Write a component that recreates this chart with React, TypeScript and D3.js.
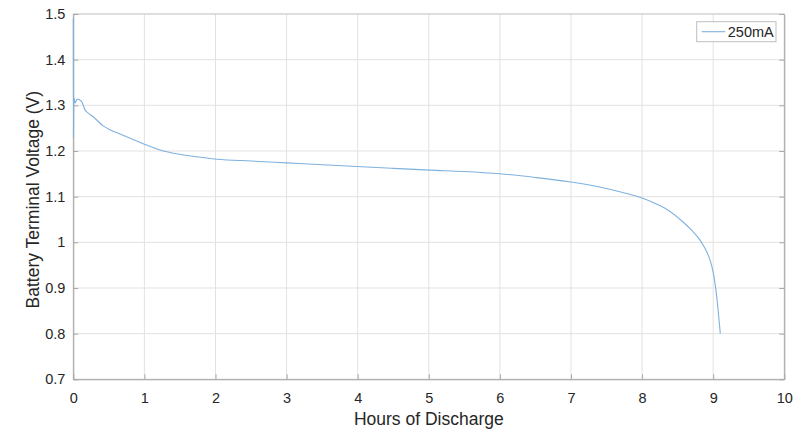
import React, { useEffect, useRef } from 'react';
import * as d3 from 'd3';

// discharge curve (hours, volts)
const hours = [
  0, 0.002, 0.006, 0.012, 0.024, 0.056, 0.118, 0.165, 0.21, 0.28, 0.42, 0.52, 0.66, 0.8, 1.0,
  1.22, 1.41, 1.7, 2.02, 2.5, 3.0, 3.5, 3.99, 4.5, 5.02, 5.5, 6.0, 6.5, 7.0, 7.4, 7.7, 8.0,
  8.2, 8.35, 8.58, 8.7, 8.81, 8.88, 8.94, 8.98, 9.01, 9.03, 9.05, 9.07, 9.1,
];
const volts = [
  1.49, 1.23, 1.31, 1.316, 1.305, 1.314, 1.308, 1.29, 1.283, 1.275, 1.255, 1.246, 1.237, 1.228,
  1.215, 1.202, 1.195, 1.188, 1.182, 1.178, 1.174, 1.17, 1.166, 1.162, 1.158, 1.155, 1.15, 1.142,
  1.132, 1.121, 1.11, 1.097, 1.084, 1.072, 1.044, 1.026, 1.006, 0.988, 0.968, 0.948, 0.926,
  0.905, 0.88, 0.85, 0.8,
];
const xTicks = [0, 1, 2, 3, 4, 5, 6, 7, 8, 9, 10];
const yTicks = [0.7, 0.8, 0.9, 1, 1.1, 1.2, 1.3, 1.4, 1.5];
const seriesName = '250mA';

const W = 800;
const H = 429;
const margin = { top: 14, right: 15.7, bottom: 49.7, left: 73.3 };
const font = '"Liberation Sans", Arial, sans-serif';

const App: React.FC = () => {
  const svgRef = useRef<SVGSVGElement>(null);

  useEffect(() => {
    if (!svgRef.current) return;
    const svg = d3.select(svgRef.current);
    svg.selectAll('*').remove();

    const x = d3.scaleLinear().domain([0, 10]).range([margin.left, W - margin.right]);
    const y = d3.scaleLinear().domain([0.7, 1.5]).range([H - margin.bottom, margin.top]);
    const [x0, x1] = x.range();
    const [y0, y1] = y.range();

    // grid
    const grid = svg.append('g').attr('stroke', '#e2e2e2').attr('stroke-width', 1);
    xTicks.slice(1, -1).forEach(t => {
      grid.append('line').attr('x1', x(t)).attr('x2', x(t)).attr('y1', y0).attr('y2', y1);
    });
    yTicks.slice(1, -1).forEach(t => {
      grid.append('line').attr('x1', x0).attr('x2', x1).attr('y1', y(t)).attr('y2', y(t));
    });

    // box
    svg.append('rect')
      .attr('x', x0).attr('y', y1)
      .attr('width', x1 - x0).attr('height', y0 - y1)
      .attr('fill', 'none').attr('stroke', '#bdbdbd').attr('stroke-width', 1);

    // axes with inward ticks
    const xAxis = svg.append('g')
      .attr('transform', `translate(0,${y0})`)
      .call(d3.axisBottom(x).tickValues(xTicks).tickSizeInner(-5).tickSizeOuter(0).tickPadding(13).tickFormat(d3.format('d')));
    const yAxis = svg.append('g')
      .attr('transform', `translate(${x0},0)`)
      .call(d3.axisLeft(y).tickValues(yTicks).tickSizeInner(-5).tickSizeOuter(0).tickPadding(8).tickFormat(d => String(+d)));
    const yAxisR = svg.append('g')
      .attr('transform', `translate(${x1},0)`)
      .call(d3.axisRight(y).tickValues(yTicks).tickSizeInner(-5).tickSizeOuter(0).tickFormat(() => ''));

    [xAxis, yAxis, yAxisR].forEach(g => {
      g.select('.domain').attr('stroke', '#a8a8a8');
      g.selectAll('.tick line').attr('stroke', '#a8a8a8');
      g.selectAll('.tick text')
        .attr('fill', '#262626')
        .style('font-family', font)
        .style('font-size', '14.5px');
    });

    // curve
    const pts: [number, number][] = hours.map((h, i) => [h, volts[i]]);
    const line = d3.line<[number, number]>()
      .x(d => x(d[0]))
      .y(d => y(d[1]))
      .curve(d3.curveMonotoneX);
    svg.append('path')
      .datum(pts)
      .attr('d', line)
      .attr('fill', 'none')
      .attr('stroke', '#7fb1de')
      .attr('stroke-width', 1.1);

    // axis labels
    svg.append('text')
      .attr('x', (x0 + x1) / 2).attr('y', 425)
      .attr('text-anchor', 'middle')
      .attr('fill', '#262626')
      .style('font-family', font).style('font-size', '17.5px')
      .text('Hours of Discharge');
    svg.append('text')
      .attr('transform', `translate(39,${(y0 + y1) / 2 + 3}) rotate(-90)`)
      .attr('text-anchor', 'middle')
      .attr('fill', '#262626')
      .style('font-family', font).style('font-size', '17.5px')
      .text('Battery Terminal Voltage (V)');

    // legend
    const lg = svg.append('g').attr('transform', 'translate(696.7,21.7)');
    lg.append('rect').attr('width', 79.3).attr('height', 20)
      .attr('fill', '#fff').attr('stroke', '#bdbdbd').attr('stroke-width', 1);
    lg.append('line').attr('x1', 5).attr('x2', 28.5).attr('y1', 10).attr('y2', 10)
      .attr('stroke', '#7fb1de').attr('stroke-width', 1.1);
    lg.append('text').attr('x', 77).attr('y', 15)
      .attr('text-anchor', 'end')
      .attr('fill', '#262626')
      .style('font-family', font).style('font-size', '14.5px')
      .text(seriesName);
  }, []);

  return (
    <svg
      ref={svgRef}
      width={W}
      height={H}
      style={{ position: 'absolute', left: 0, top: 0, background: '#fff' }}
    />
  );
};

export default App;
